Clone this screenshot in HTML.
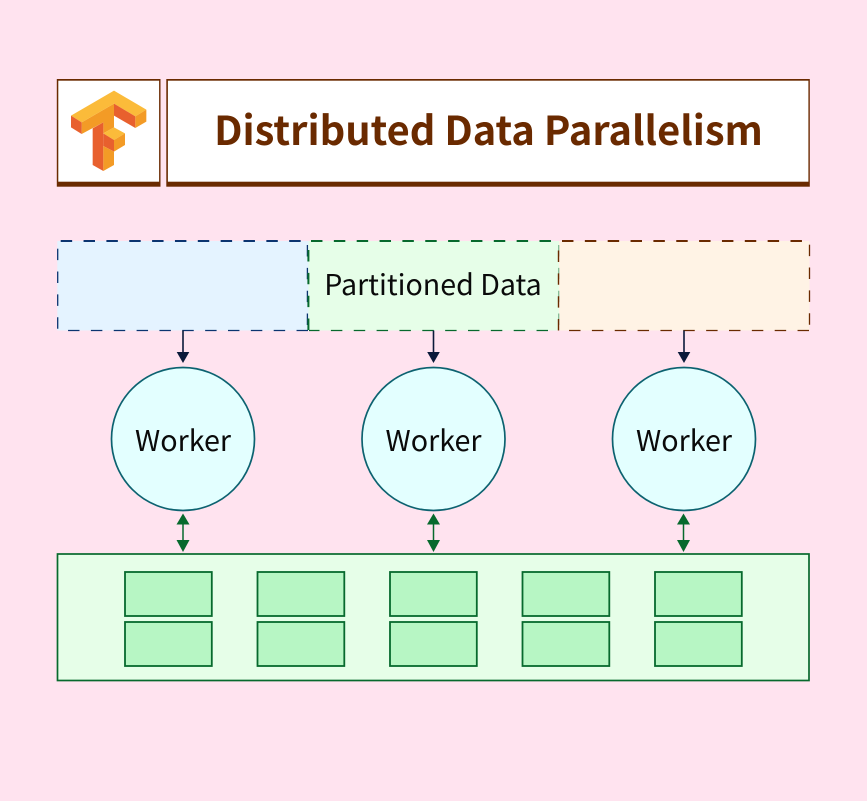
<!DOCTYPE html>
<html><head><meta charset="utf-8"><style>
html,body{margin:0;padding:0;background:#FFE3EF;}
svg{display:block;}
text{font-family:"Noto Sans CJK SC","Liberation Sans",sans-serif;}
</style></head><body>
<svg width="867" height="801" viewBox="0 0 867 801" xmlns="http://www.w3.org/2000/svg">
<rect width="867" height="801" fill="#FFE3EF"/>
<!-- header -->
<rect x="56.800" y="79" width="103.700" height="107.700" fill="#6A2A00"/>
<rect x="58.300" y="80.700" width="100.800" height="101" fill="#fff"/>
<rect x="166.300" y="79" width="643.500" height="107.700" fill="#6A2A00"/>
<rect x="167.900" y="80.700" width="640.500" height="101" fill="#fff"/>
<g transform="translate(50 70) scale(0.33333)">
<polygon points="95,157 192,101 192,137 256,174 192,137 192,172 160,190 160,157 95,192" fill="#F39B26"/>
<polygon points="63,137 192,62 289,119 256,139 192,101 95,157" fill="#FBBB3A"/>
<polygon points="63,137 95,157 95,192 63,172" fill="#E8602E"/>
<polygon points="192,101 256,139 256,174 192,137" fill="#E8602E"/>
<polygon points="256,139 289,119 289,155 256,174" fill="#F39B26"/>
<polygon points="128,175 160,157 160,303 128,285" fill="#E8602E"/>
<polygon points="160,190 192,172 225,190 192,210" fill="#FBBB3A"/>
<polygon points="160,190 192,210 192,245 160,228" fill="#E8602E"/>
<polygon points="192,210 225,190 225,225 192,245" fill="#F39B26"/>
<polygon points="160,228 192,245 192,285 160,303" fill="#F39B26"/>
</g>
<text x="488.500" y="145" font-size="39.800" font-weight="700" fill="#6A2A00" text-anchor="middle">Distributed Data Parallelism</text>
<!-- partitions -->
<rect x="57.300" y="241" width="251.200" height="89.500" fill="#E4F3FF"/>
<rect x="308.500" y="241" width="250.500" height="89.500" fill="#E6FEE8"/>
<rect x="559" y="241" width="250.500" height="89.500" fill="#FFF3E5"/>
<g fill="none" stroke-dasharray="11.450 11.400">
<g stroke="#0B3470">
<path d="M60.700 241H308" stroke-width="2"/>
<path d="M57.700 248.700V330.500" stroke-width="1.300"/>
<path d="M308 330.500H58" stroke-width="1.200"/>
<path d="M307.400 245V330" stroke-width="1.300"/>
</g>
<g stroke="#07692D">
<path d="M311 241H558.500" stroke-width="2"/>
<path d="M548 330.500H309" stroke-width="1.200"/>
<path d="M558.700 245V330" stroke-width="1.300" stroke-opacity=".45"/>
<path d="M308.400 250V330.500" stroke-width="2"/>
</g>
<g stroke="#6A2A00">
<path d="M562 241H809" stroke-width="2"/>
<path d="M809.500 244.700V330" stroke-width="1.300"/>
<path d="M809 330.500H559" stroke-width="1.200"/>
<path d="M558.500 250.500V330.500" stroke-width="1.400"/>
</g>
</g>
<text x="433" y="295" font-size="28.600" fill="#0a0a0a" text-anchor="middle">Partitioned Data</text>
<!-- arrows down -->
<g stroke="#0A1A3A" stroke-width="1.600" fill="#0A1A3A">
<path d="M183 330.500V352"/><path d="M433.500 330.500V352"/><path d="M684 330.500V352"/>
</g>
<g fill="#0A1A3A">
<polygon points="176.700,352 189.300,352 183,363"/>
<polygon points="427.200,352 439.800,352 433.500,363"/>
<polygon points="677.700,352 690.300,352 684,363"/>
</g>
<!-- workers -->
<g fill="#E3FFFF" stroke="#0C6270" stroke-width="1.700">
<circle cx="183" cy="439" r="71.500"/>
<circle cx="433.500" cy="439" r="71.500"/>
<circle cx="684" cy="439" r="71.500"/>
</g>
<g font-size="28.700" fill="#0a0a0a" text-anchor="middle">
<text x="183" y="451">Worker</text>
<text x="433.500" y="451">Worker</text>
<text x="684" y="451">Worker</text>
</g>
<!-- double arrows -->
<g fill="#07692D" stroke="#07692D" stroke-width="1.500">
<path d="M183 522V542"/><path d="M433.500 522V542"/><path d="M683.500 522V542"/>
</g>
<g fill="#07692D">
<polygon points="183,513.500 176.500,524.500 189.500,524.500"/><polygon points="183,552 176.500,540 189.500,540"/>
<polygon points="433.500,513.500 427,524.500 440,524.500"/><polygon points="433.500,552 427,540 440,540"/>
<polygon points="683.500,513.500 677,524.500 690,524.500"/><polygon points="683.500,552 677,540 690,540"/>
</g>
<!-- storage -->
<rect x="57.500" y="554" width="751.500" height="126.500" fill="#E6FEE8" stroke="#07692D" stroke-width="1.700"/>
<g fill="#B7F6C4" stroke="#07692D" stroke-width="1.800">
<rect x="125" y="572" width="86.800" height="44"/><rect x="125" y="622" width="86.800" height="44"/>
<rect x="257.500" y="572" width="86.800" height="44"/><rect x="257.500" y="622" width="86.800" height="44"/>
<rect x="390" y="572" width="86.800" height="44"/><rect x="390" y="622" width="86.800" height="44"/>
<rect x="522.500" y="572" width="86.800" height="44"/><rect x="522.500" y="622" width="86.800" height="44"/>
<rect x="655" y="572" width="86.800" height="44"/><rect x="655" y="622" width="86.800" height="44"/>
</g>
</svg>
</body></html>
